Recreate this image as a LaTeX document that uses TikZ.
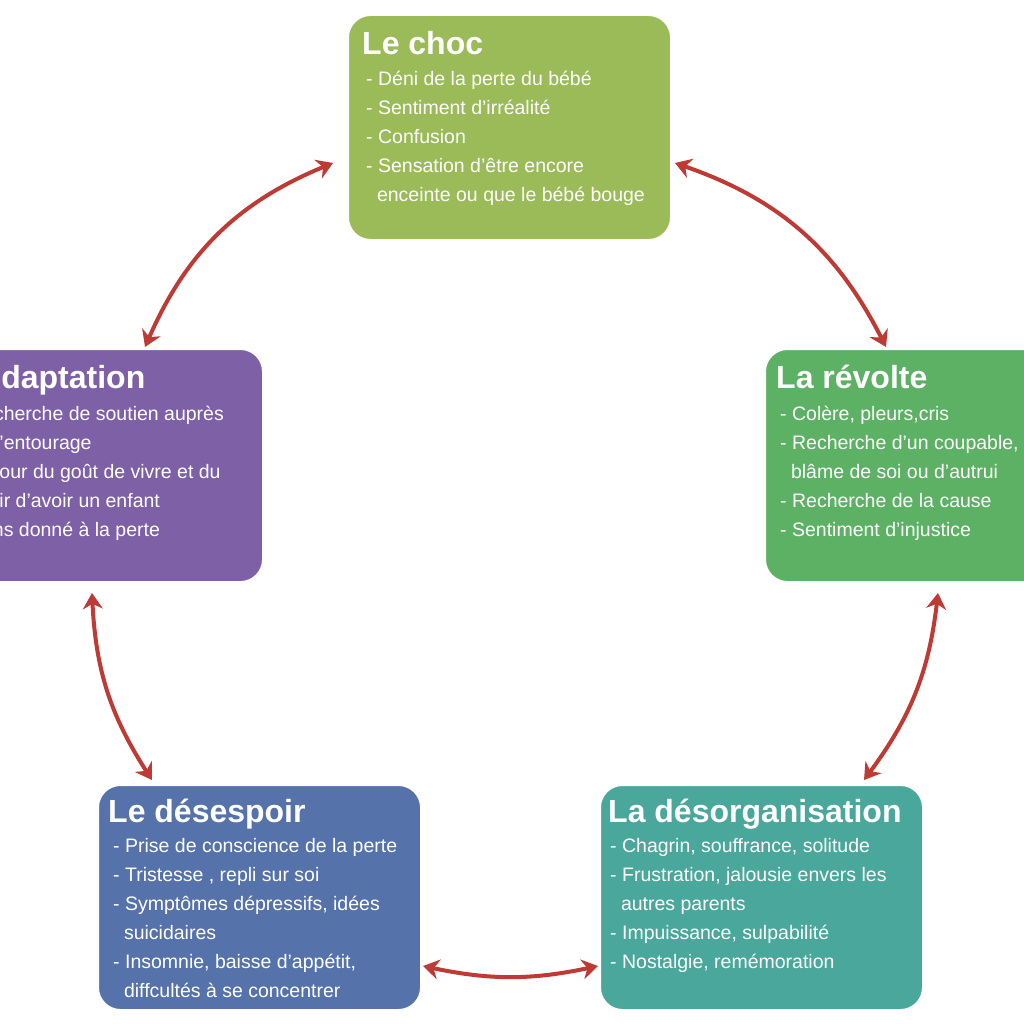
\documentclass[tikz,border=0pt]{standalone}
\usepackage{fontspec}
\setmainfont{Liberation Sans}
\usetikzlibrary{arrows.meta}
\definecolor{cchoc}{HTML}{9BBB59}
\definecolor{crev}{HTML}{5DB164}
\definecolor{cada}{HTML}{7D60A6}
\definecolor{cdes}{HTML}{5572AA}
\definecolor{cdorg}{HTML}{4AA79B}
\definecolor{carr}{HTML}{BE3A34}
\begin{document}
\begin{tikzpicture}[x=1pt,y=-1pt,
  box/.style={draw=white,line width=1pt,rounded corners=22pt,anchor=north west,inner sep=0pt},
  ttl/.style={anchor=north west,text=white,font=\bfseries\fontsize{32}{36}\selectfont,inner sep=0pt},
  bd/.style={anchor=north west,text=white,font=\fontsize{19.5}{29}\selectfont,align=left,inner sep=0pt},
  arr/.style={draw=carr,line width=4pt,{Stealth[length=16pt,width=20pt]}-{Stealth[length=16pt,width=20pt]}}]
\useasboundingbox (0,0) rectangle (1024,1024);
\clip (0,0) rectangle (1024,1024);
\fill[white] (0,0) rectangle (1024,1024);
% boxes
\node[box,fill=cchoc,minimum width=322pt,minimum height=224pt] (choc) at (348,15) {};
\node[box,fill=crev,minimum width=300pt,minimum height=232pt] (rev) at (765,349) {};
\node[box,fill=cada,minimum width=330pt,minimum height=232pt] (ada) at (-68,349) {};
\node[box,fill=cdes,minimum width=322pt,minimum height=224pt] (des) at (98,785) {};
\node[box,fill=cdorg,minimum width=322pt,minimum height=224pt] (dorg) at (600,785) {};
% texts
\node[ttl] (t1) at (362,31) {Le choc};
\node[bd] (b1) at (366,71) {- Déni de la perte du bébé\\- Sentiment d’irréalité\\- Confusion\\- Sensation d’être encore\\\ \ enceinte ou que le bébé bouge};
\node[ttl] (t2) at (776,365) {La révolte};
\node[bd] (b2) at (780,406) {- Colère, pleurs,cris\\- Recherche d’un coupable,\\\ \ blâme de soi ou d’autrui\\- Recherche de la cause\\- Sentiment d’injustice};
\node[ttl] (t3) at (-22,365) {Adaptation};
\node[bd] (b3) at (-43,406) {- Recherche de soutien auprès\\\ \ de l’entourage\\- Retour du goût de vivre et du\\\ \ désir d’avoir un enfant\\- Sens donné à la perte};
\node[ttl] (t4) at (108,799) {Le désespoir};
\node[bd] (b4) at (113,838) {- Prise de conscience de la perte\\- Tristesse , repli sur soi\\- Symptômes dépressifs, idées\\\ \ suicidaires\\- Insomnie, baisse d’appétit,\\\ \ diffcultés à se concentrer};
\node[ttl] (t5) at (608,799) {La désorganisation};
\node[bd] (b5) at (610,838) {- Chagrin, souffrance, solitude\\- Frustration, jalousie envers les\\\ \ autres parents\\- Impuissance, sulpabilité\\- Nostalgie, remémoration};
% arrow ends
\coordinate (a1) at (333,163); \coordinate (a2) at (145,347);
\coordinate (c1) at (675,163); \coordinate (c2) at (886,347);
\coordinate (d1) at (938,593); \coordinate (d2) at (864,780);
\coordinate (e1) at (92,593); \coordinate (e2) at (152,780);
\coordinate (f1) at (423,966); \coordinate (f2) at (598,966);
\draw[arr] (a1) to[bend right=22] (a2);
\draw[arr] (c1) to[bend left=22] (c2);
\draw[arr] (d1) to[bend left=15] (d2);
\draw[arr] (e1) to[bend right=15] (e2);
\draw[arr] (f1) to[bend right=12] (f2);
\end{tikzpicture}
\end{document}
